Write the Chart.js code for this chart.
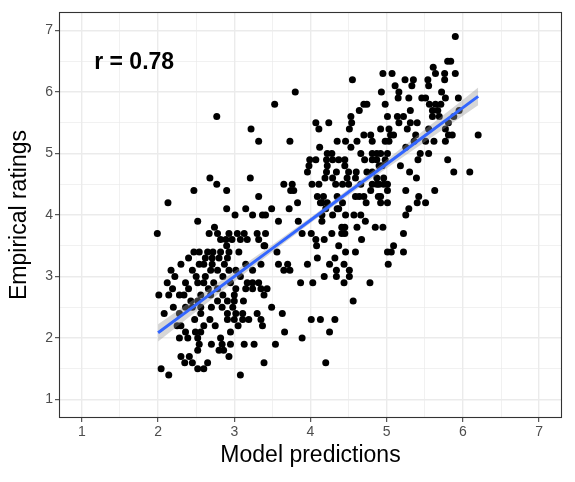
<!DOCTYPE html>
<html>
<head>
<meta charset="utf-8">
<script src="https://cdn.jsdelivr.net/npm/chart.js@4/dist/chart.umd.min.js"></script>
<style>
html,body{margin:0;padding:0;background:#ffffff;}
#wrap{width:575px;height:482px;}
</style>
</head>
<body>
<div id="wrap"><canvas id="c" width="575" height="482"></canvas></div>
<script>
// [model prediction, empirical rating]
const observations = [
[2.13,4.2],[2.90,4.1],[3.15,4.1],[3.01,4.0],[3.24,4.0],[3.37,4.0],[2.52,3.9],[2.74,3.8],
[1.99,3.7],[2.67,3.7],[2.78,3.7],[2.93,3.7],[3.04,3.7],[3.13,3.7],[3.30,3.7],
[2.82,3.6],[2.89,3.6],[2.97,3.6],[3.08,3.6],[3.17,3.6],[3.32,3.6],
[2.90,3.5],[3.39,3.5],
[2.47,3.4],[2.54,3.4],[2.65,3.4],[2.72,3.4],[2.82,3.4],[2.93,3.4],[3.06,3.4],
[2.62,3.3],[2.71,3.3],[2.80,3.3],[2.91,3.3],[2.40,3.3],
[2.54,3.2],[2.60,3.2],[2.71,3.2],[2.87,3.2],[3.15,3.2],[2.30,3.2],
[2.17,3.1],[2.69,3.1],[2.78,3.1],[2.93,3.1],[3.02,3.1],[3.24,3.1],[2.45,3.1],
[2.22,3.0],[3.08,3.0],[2.62,3.0],[2.85,3.0],[2.50,3.0],
[2.36,2.9],[2.52,2.9],[2.60,2.9],[2.73,2.9],[2.95,2.9],[3.17,2.9],[3.24,2.9],[3.32,2.9],[2.12,2.9],
[2.19,2.8],[2.78,2.8],[3.02,2.8],[3.15,2.8],[3.24,2.8],[3.35,2.8],[3.43,2.8],[2.66,2.8],[2.40,2.8],
[2.01,2.7],[2.14,2.7],[2.28,2.7],[2.34,2.7],[2.56,2.7],[2.69,2.7],[2.85,2.7],[3.00,2.7],[3.39,2.7],
[2.43,2.6],[2.52,2.6],[2.78,2.6],[2.91,2.6],[3.00,2.6],[3.12,2.6],
[2.36,2.5],[2.45,2.5],[2.56,2.5],[2.84,2.5],[2.70,2.5],[2.98,2.5],[2.20,2.5],[3.49,2.5],
[2.08,2.4],[2.28,2.4],[2.56,2.4],[2.91,2.4],[3.02,2.4],[3.11,2.4],[3.30,2.4],[3.63,2.4],
[2.91,2.3],[3.00,2.3],[3.11,2.3],[3.19,2.3],[3.35,2.3],[2.48,2.3],[2.68,2.3],
[2.25,2.2],[2.30,2.2],[2.60,2.2],[2.75,2.2],[3.05,2.2],[3.37,2.2],
[2.36,2.1],[2.49,2.1],[2.56,2.1],[2.95,2.1],[3.66,2.1],
[2.28,2.0],[2.39,2.0],[2.52,2.0],[2.82,2.0],[3.89,2.0],
[2.54,1.9],[2.84,1.9],[2.95,1.9],[3.13,1.9],[3.26,1.9],[2.70,1.9],[3.54,1.9],
[2.52,1.8],[2.80,1.8],[2.86,1.8],
[2.30,1.7],[2.41,1.7],[2.93,1.7],
[2.35,1.6],[2.45,1.6],[3.39,1.6],[2.65,1.6],[4.20,1.6],
[2.04,1.5],[2.52,1.5],[2.60,1.5],
[2.14,1.4],[3.08,1.4],
[3.41,4.0],[3.49,4.1],[3.58,3.9],[3.72,4.1],[3.84,3.9],[4.15,4.2],[4.15,4.0],[4.15,3.9],[4.29,4.0],[4.37,4.1],
[4.46,4.0],[4.57,4.0],[4.66,4.0],[4.72,3.9],[4.85,3.8],[4.41,3.8],[4.45,3.8],[4.61,3.8],[4.41,3.7],[4.45,3.7],
[4.28,3.7],[3.41,3.7],[3.89,3.7],[4.01,3.7],[4.07,3.6],[4.18,3.6],[4.67,3.6],[3.40,3.5],[4.08,3.5],[4.37,3.5],
[3.56,3.4],[4.46,3.4],[4.59,3.4],[4.09,3.3],[4.32,3.3],[3.35,3.2],[3.58,3.2],[3.70,3.2],[3.96,3.2],[4.25,3.2],
[4.44,3.2],[3.65,3.1],[3.73,3.1],[4.34,3.1],[4.51,3.1],[4.34,3.0],[4.51,3.0],[4.18,3.0],[3.87,2.9],[4.03,2.9],
[4.44,2.9],[4.78,2.9],[4.56,2.6],[4.01,2.3],[4.13,2.3],[4.32,2.3],[4.25,2.1],
[4.55,6.2],[3.80,6.0],[3.53,5.8],[4.70,5.8],[4.64,5.7],[4.98,5.8],[4.53,5.6],[5.01,5.6],[5.14,5.6],[4.07,5.5],
[4.24,5.5],[4.54,5.5],[4.11,5.4],[4.51,5.4],[4.92,5.4],[5.03,5.4],[4.70,5.3],[4.79,5.3],[5.09,5.3],[3.32,5.2],
[3.73,5.2],[4.35,5.2],[4.46,5.2],[4.61,5.2],[4.81,5.2],[5.03,5.2],[4.12,5.1],[4.53,5.1],[4.22,5.0],[4.28,5.0],
[4.66,5.0],[4.81,5.0],[4.92,5.0],[5.01,5.0],[3.99,4.9],[4.07,4.9],[4.21,4.9],[4.29,4.9],[4.37,4.9],[4.45,4.9],
[4.71,4.9],[4.87,4.9],[3.98,4.8],[4.22,4.8],[4.45,4.8],[4.94,4.8],[3.96,4.7],[4.21,4.7],[4.34,4.7],[4.50,4.7],
[4.60,4.7],[4.74,4.7],[4.81,4.7],[4.19,4.6],[4.29,4.6],[4.48,4.6],[4.59,4.6],[4.87,4.6],[4.96,4.6],[3.65,4.5],
[3.76,4.5],[4.02,4.5],[4.11,4.5],[4.33,4.5],[4.42,4.5],[4.50,4.5],[4.66,4.5],[4.81,4.5],[4.90,4.5],[5.01,4.5],
[3.74,4.4],[3.78,4.4],[4.79,4.4],[5.01,4.4],[3.32,4.3],[4.09,4.3],[4.17,4.3],[4.35,4.3],[4.59,4.3],[4.64,4.3],
[4.70,4.3],[4.92,4.3],[3.83,4.2],[4.13,4.2],[4.22,4.2],[4.42,4.2],[4.73,4.2],[5.01,4.2],[4.20,4.1],[4.35,4.1],
[2.77,5.6],[3.22,5.4],[2.68,4.6],[2.77,4.5],[2.47,4.4],[2.90,4.4],[3.21,4.6],
[5.90,6.9],[5.84,6.5],[5.80,6.5],[5.61,6.4],[5.64,6.3],[5.76,6.3],[5.90,6.3],[4.95,6.3],[5.07,6.3],[5.24,6.2],
[5.35,6.2],[5.54,6.2],[5.76,6.2],[5.11,6.1],[5.33,6.1],[5.55,6.1],[4.93,6.0],[5.16,6.0],[5.72,6.0],[5.15,5.9],
[5.29,5.9],[5.46,5.9],[5.51,5.9],[5.77,5.9],[5.94,5.9],[4.74,5.8],[5.56,5.8],[5.64,5.8],[5.71,5.8],[5.95,5.7],
[5.60,5.7],[5.67,5.7],[5.22,5.6],[5.60,5.6],[5.69,5.6],[5.31,5.7],[5.16,5.5],[5.31,5.5],[5.40,5.5],[5.81,5.5],
[5.88,5.6],[5.05,5.3],[5.27,5.4],[5.38,5.3],[5.55,5.4],[5.77,5.4],[5.81,5.3],[5.86,5.3],[6.20,5.3],[4.98,5.2],
[5.36,5.2],[5.51,5.2],[5.62,5.2],[5.77,5.2],[5.25,5.1],[4.87,5.0],[5.44,5.0],[5.55,5.0],[4.81,4.9],[4.98,4.9],
[5.41,4.9],[5.80,4.9],[5.18,4.8],[4.90,4.8],[5.30,4.7],[5.88,4.7],[6.09,4.7],[5.39,4.6],[4.87,4.5],[4.96,4.5],
[5.25,4.4],[5.63,4.4],[4.89,4.3],[5.42,4.3],[5.51,4.2],[4.92,4.2],
[5.40,4.2],[5.29,4.1],[5.25,4.0],[4.95,3.8],[5.22,3.7],[5.09,3.5],[5.01,3.4],[5.06,3.4],[5.22,3.4],[5.02,3.2]
];

// Linear fit and its confidence band
const fitX     = [2.0, 2.5, 3.0, 3.5, 4.0, 4.5, 5.0, 5.5, 6.0, 6.2];
const fitY     = [2.085, 2.543, 3.000, 3.458, 3.915, 4.373, 4.830, 5.288, 5.745, 5.928];
const bandLow  = [1.945, 2.433, 2.920, 3.398, 3.870, 4.323, 4.760, 5.188, 5.615, 5.783];
const bandHigh = [2.225, 2.653, 3.080, 3.518, 3.960, 4.423, 4.900, 5.388, 5.875, 6.073];

const tickValues = [1, 2, 3, 4, 5, 6, 7];
const gridValues = [1, 1.5, 2, 2.5, 3, 3.5, 4, 4.5, 5, 5.5, 6, 6.5, 7];
const xTitle = 'Model predictions';
const yTitle = 'Empirical ratings';
const annotation = { text: 'r = 0.78', x: 1.686, y: 6.475 };

const FONT = '"Liberation Sans", Arial, Helvetica, sans-serif';

const toXY = (xs, ys) => xs.map((x, i) => ({ x: x, y: ys[i] }));
const isMajor = v => tickValues.indexOf(v) !== -1;

const panelPlugin = {
  id: 'panel',
  afterDatasetsDraw(chart) {
    const { ctx, chartArea: a, scales } = chart;
    ctx.save();
    ctx.fillStyle = '#000000';
    ctx.font = 'bold 23px ' + FONT;
    ctx.textAlign = 'center';
    ctx.textBaseline = 'middle';
    ctx.fillText(annotation.text, scales.x.getPixelForValue(annotation.x), scales.y.getPixelForValue(annotation.y));
    ctx.strokeStyle = '#333333';
    ctx.lineWidth = 1.1;
    ctx.strokeRect(a.left + 0.5, a.top + 0.5, a.right - a.left - 1, a.bottom - a.top - 1);
    ctx.restore();
  }
};

function axis(title, isX) {
  return {
    type: 'linear',
    min: 0.7,
    max: 7.3,
    afterBuildTicks: s => { s.ticks = gridValues.map(v => ({ value: v })); },
    afterFit: s => { if (isX) { s.height = 64; } else { s.width = 59; } },
    ticks: {
      autoSkip: false,
      maxRotation: 0,
      padding: 2,
      color: '#4D4D4D',
      font: { family: FONT, size: 14 },
      callback: v => (isMajor(v) ? String(v) : '')
    },
    grid: {
      color: '#EBEBEB',
      lineWidth: c => (c.tick && isMajor(c.tick.value) ? 1.4 : 0.7),
      drawTicks: true,
      tickLength: 4,
      tickWidth: 1,
      tickColor: c => (c.tick && isMajor(c.tick.value) ? '#333333' : 'rgba(0,0,0,0)')
    },
    border: { display: false },
    title: {
      display: true,
      text: title,
      color: '#000000',
      font: { family: FONT, size: 23 },
      padding: isX ? { top: 0, bottom: 13 } : { top: 6, bottom: 0 }
    }
  };
}

new Chart(document.getElementById('c'), {
  type: 'scatter',
  data: {
    datasets: [
      { type: 'line', data: toXY(fitX, fitY), borderColor: '#3366FF', borderWidth: 3, pointRadius: 0, fill: false, order: 1 },
      { type: 'line', data: toXY(fitX, bandHigh), borderWidth: 0, borderColor: 'rgba(0,0,0,0)', pointRadius: 0, fill: '+1', backgroundColor: 'rgba(153,153,153,0.4)', order: 2 },
      { type: 'line', data: toXY(fitX, bandLow), borderWidth: 0, borderColor: 'rgba(0,0,0,0)', pointRadius: 0, fill: false, order: 2 },
      { type: 'scatter', data: observations.map(p => ({ x: p[0], y: p[1] })), backgroundColor: '#000000', borderWidth: 0, pointRadius: 3.5, order: 3 }
    ]
  },
  options: {
    responsive: false,
    animation: false,
    devicePixelRatio: 1,
    layout: { padding: { left: 0, right: 13, top: 12, bottom: 0 } },
    plugins: { legend: { display: false }, tooltip: { enabled: false } },
    scales: { x: axis(xTitle, true), y: axis(yTitle, false) }
  },
  plugins: [panelPlugin]
});
</script>
</body>
</html>
